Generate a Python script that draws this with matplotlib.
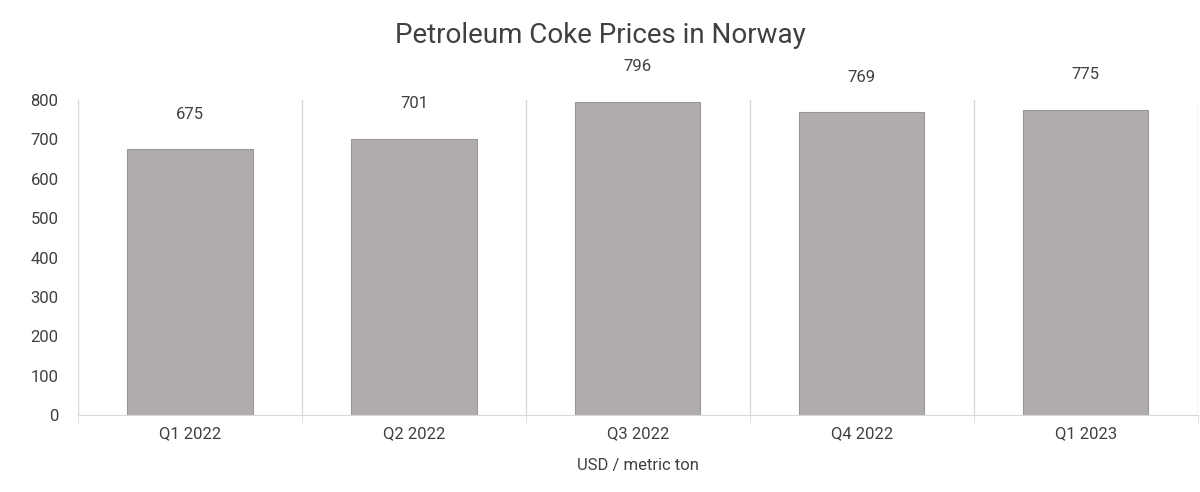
import matplotlib.pyplot as plt
import numpy as np

plt.rcParams['font.family'] = ['Roboto', 'DejaVu Sans']

# data
quarters = ["Q1 2022", "Q2 2022", "Q3 2022", "Q4 2022", "Q1 2023"]
prices = [675, 701, 796, 769, 775]

fig = plt.figure(figsize=(12, 4.92), dpi=100)
ax = fig.add_axes([0.065, 0.1565, 0.933, 0.64])

x = np.arange(len(quarters))
ax.bar(x, prices, width=0.56, color="#afacab", edgecolor="#9a9796", linewidth=0.8, zorder=2)

for xi, v in zip(x, prices):
    ax.annotate(str(v), (xi, v), xytext=(0, 20), textcoords="offset points",
                ha="center", va="bottom", fontsize=12, color="#404040")

ax.set_xlim(-0.5, len(quarters) - 0.5)
ax.set_ylim(0, 800)
ax.set_yticks(range(0, 801, 100))
ax.set_xticks(x)
ax.set_xticklabels(quarters)
# separators between categories
ax.set_xticks(np.arange(-0.5, len(quarters)), minor=True)
ax.grid(axis="x", which="minor", color="#d9d9d9", linewidth=1, zorder=0)
ax.tick_params(axis="x", which="major", length=0, pad=8, labelsize=12, labelcolor="#404040")
ax.tick_params(axis="x", which="minor", length=6, color="#d9d9d9")
ax.tick_params(axis="y", length=0, labelsize=12, labelcolor="#404040", pad=14)

for s in ["top", "right", "left"]:
    ax.spines[s].set_visible(False)
ax.spines["bottom"].set_color("#d9d9d9")

ax.set_xlabel("USD / metric ton", fontsize=12, color="#404040", labelpad=12)
fig.suptitle("Petroleum Coke Prices in Norway", fontsize=20, color="#404040", y=0.955)

fig.savefig("out.png", dpi=100)
